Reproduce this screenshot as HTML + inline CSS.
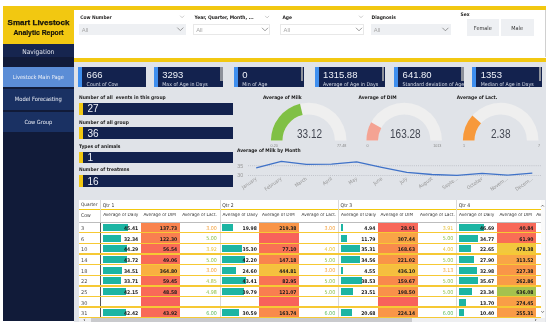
<!DOCTYPE html>
<html><head><meta charset="utf-8">
<style>
*{margin:0;padding:0;box-sizing:border-box}
html,body{width:550px;height:326px;overflow:hidden;background:#fff}
body{position:relative;font-family:"Liberation Sans",Arial,sans-serif;color:#222}
.a{position:absolute}
.t{position:absolute;white-space:nowrap;line-height:1}
/* sidebar */
#yel{left:3px;top:6px;width:71.4px;height:38.5px;background:#f2c811}
#ytop{left:3px;top:6px;width:542.6px;height:3.9px;background:#f2c811}
#nav{left:3px;top:44.4px;width:70.6px;height:276.8px;background:#111b39}
#navh{left:3px;top:44.4px;width:70.8px;height:13px;background:#16254f}
#navlm{left:3px;top:66.8px;width:70.8px;height:20.3px;background:#5b8dd6}
#navmf{left:3px;top:88.8px;width:70.6px;height:21.3px;background:#1a3163}
#navcg{left:3px;top:111.8px;width:70.6px;height:19.9px;background:#1a3163}
.navt{font-family:"DejaVu Sans Condensed","DejaVu Sans",sans-serif;color:#eef1f8;font-size:6px;text-align:center;width:70.6px;left:3px}
/* top bar */
#topw{left:74.2px;top:9.8px;width:471.4px;height:47.7px;background:#fff;border-right:0.8px solid #d0d0d0}
#main{left:73.8px;top:57.5px;width:471.8px;height:264.7px;background:#e0e3e8}
#ybot{left:74.2px;top:57.5px;width:471.4px;height:4px;background:#f2c811}
.flab{font-family:"DejaVu Sans Condensed","DejaVu Sans",sans-serif;font-weight:bold;font-size:4.9px;color:#252423}
.dd{height:11.5px;top:23.5px}
.ddg{background:#eef0f3}
.ddw{background:#fff;border:0.6px solid #e8e8e8}
.ddw .ddt{left:2.2px;top:3.7px}
.ddt{font-size:5.8px;color:#a6a6a6;left:2.8px;top:4.3px}
.chev{position:absolute;width:3.4px;height:3.4px;border-right:0.7px solid #777;border-bottom:0.7px solid #777;transform:rotate(45deg)}
.chs{width:2.6px;height:2.6px;border-color:#aaa}
.sexb{top:19px;height:17px;background:#eef0f3;font-family:"DejaVu Sans Condensed","DejaVu Sans",sans-serif;font-size:5.5px;color:#333;text-align:center;line-height:17px;padding-top:1px}
/* kpi */
.kpi{top:67.1px;height:20.2px;background:#13224e}
.kpi .acc{position:absolute;left:0;top:0;width:4.2px;height:100%;background:#3f8fef}
.kpi .sb{position:absolute;right:0.4px;top:0.4px;width:2.6px;height:13.6px;background:#8d919a}
.kv{font-size:9.5px;color:#eef1f8;left:8.6px;top:2.7px}
.kl{font-family:"DejaVu Sans Condensed","DejaVu Sans",sans-serif;font-size:5.25px;color:#d8dde8;left:8.6px;top:14.9px}
/* metric bars */
.ml{font-family:"DejaVu Sans Condensed","DejaVu Sans",sans-serif;font-weight:bold;font-size:4.9px;color:#1c1c1c;left:79px}
.mb{left:79px;width:153.7px;height:11.4px;background:#13224e}
.mb .acc{position:absolute;left:0;top:0;width:4.2px;height:100%;background:#f2c811}
.mv{font-size:10px;color:#eef1f8;left:8.4px;top:1.3px}
/* gauges */
.gt{font-family:"DejaVu Sans Condensed","DejaVu Sans",sans-serif;font-weight:bold;font-size:4.9px;color:#1c1c1c;top:94.6px}
.gv{font-size:13px;color:#434752;top:126.6px;transform-origin:0 0;transform:scaleX(0.77)}
.gm{font-size:3.7px;color:#888;top:145px}
/* table */
#tbl{left:78.7px;top:200.3px;width:465.9px;height:118px;background:#fff}
.yl{position:absolute;left:78.7px;width:461.9px;height:1.3px;background:#f6c934}
.cow{position:absolute;left:81px;font-family:"DejaVu Sans",sans-serif;font-size:5px;color:#4a4a4a;line-height:10px;height:10px;padding-top:0.6px}
.qh{position:absolute;top:202.7px;font-family:"DejaVu Sans Condensed","DejaVu Sans",sans-serif;font-size:5px;color:#333;line-height:1}
.ch{position:absolute;top:212.9px;font-family:"DejaVu Sans Condensed","DejaVu Sans",sans-serif;font-size:4.75px;color:#3a3a3a;line-height:1;text-align:left;padding-left:2.6px;white-space:nowrap;overflow:hidden}
.vq{position:absolute;top:200.3px;width:0.7px;height:117px;background:#d9d9d9}
.dimc{position:absolute}
.bar{position:absolute;height:7px;background:#1cb5a3}
.num{position:absolute;font-family:"DejaVu Sans Condensed","DejaVu Sans",sans-serif;font-weight:bold;font-size:5px;color:#1c1c1c;text-align:right;line-height:9px;padding-top:1.6px}
.lact{position:absolute;font-family:"DejaVu Sans Condensed","DejaVu Sans",sans-serif;font-size:5.3px;text-align:right;line-height:9px;padding-top:1.3px}
.xl text{font-size:5px;fill:#959595;font-family:"DejaVu Sans Condensed","DejaVu Sans",sans-serif}
</style></head><body>
<div class="a" id="yel"></div>
<div class="a" id="ytop"></div>
<div class="a" id="nav"></div>
<div class="a" id="navh"></div>
<div class="a" id="navlm"></div>
<div class="a" id="navmf"></div>
<div class="a" id="navcg"></div>
<div class="t" style="left:3px;width:71px;text-align:center;top:19.1px;font-weight:bold;font-size:8px;color:#15130c;-webkit-text-stroke:0.25px #15130c">Smart Livestock</div>
<div class="t" style="left:3px;width:71px;text-align:center;top:29.9px;font-weight:bold;font-size:6.8px;color:#15130c;-webkit-text-stroke:0.2px #15130c">Analytic Report</div>
<div class="t navt" style="top:49px;font-size:6.6px;color:#e2e6f0">Navigation</div>
<div class="t navt" style="top:74.6px;font-size:5.6px">Livestock Main Page</div>
<div class="t navt" style="top:97.4px;font-size:5.75px">Model Forecasting</div>
<div class="t navt" style="top:120px;font-size:5.6px">Cow Group</div>

<div class="a" id="topw"></div>
<div class="a" id="main"></div>
<div class="a" id="ybot"></div>

<!-- filters -->
<div class="t flab" style="left:80.2px;top:14.9px">Cow Number</div>
<div class="a dd ddg" style="left:79px;width:106.6px"><div class="t ddt">All</div></div>
<div class="t flab" style="left:194.6px;top:14.9px">Year, Quarter, Month, ...</div>
<div class="a dd ddw" style="left:193px;width:77.4px"><div class="t ddt">All</div></div>
<div class="t flab" style="left:282.4px;top:14.9px">Age</div>
<div class="a dd ddw" style="left:280.4px;width:84px"><div class="t ddt">All</div></div>
<div class="t flab" style="left:371.6px;top:14.9px">Diagnosis</div>
<div class="a dd ddg" style="left:371px;width:80px"><div class="t ddt">All</div></div>
<div class="t flab" style="left:460.6px;top:11.8px">Sex</div>
<div class="a sexb" style="left:466.6px;width:32.4px">Female</div>
<div class="a sexb" style="left:500.6px;width:33px">Male</div>

<!-- KPI cards -->
<div class="a kpi" style="left:78px;width:68.4px"><div class="acc"></div><div class="t kv">666</div><div class="t kl">Count of Cow</div></div>
<div class="a kpi" style="left:153.6px;width:69.7px"><div class="acc"></div><div class="sb"></div><div class="t kv">3293</div><div class="t kl">Max of Age in Days</div></div>
<div class="a kpi" style="left:233.7px;width:70px"><div class="acc"></div><div class="sb"></div><div class="t kv">0</div><div class="t kl">Min of Age</div></div>
<div class="a kpi" style="left:314.5px;width:70px;overflow:hidden"><div class="acc"></div><div class="sb"></div><div class="t kv">1315.88</div><div class="t kl">Average of Age in Days</div></div>
<div class="a kpi" style="left:394px;width:70px;overflow:hidden"><div class="acc"></div><div class="sb"></div><div class="t kv">641.80</div><div class="t kl">Standard deviation of Age</div></div>
<div class="a kpi" style="left:472.2px;width:69.6px;overflow:hidden"><div class="acc"></div><div class="sb"></div><div class="t kv">1353</div><div class="t kl">Median of Age in Days</div></div>

<!-- metric bars -->
<div class="t ml" style="top:95.4px">Number of all &nbsp;events in this group</div>
<div class="a mb" style="top:103.2px"><div class="acc"></div><div class="t mv">27</div></div>
<div class="t ml" style="top:119.6px">Number of all group</div>
<div class="a mb" style="top:127.3px"><div class="acc"></div><div class="t mv">36</div></div>
<div class="t ml" style="top:143.6px">Types of animals</div>
<div class="a mb" style="top:151.5px"><div class="acc"></div><div class="t mv">1</div></div>
<div class="t ml" style="top:167.4px">Number of treatmns</div>
<div class="a mb" style="top:175.4px"><div class="acc"></div><div class="t mv">16</div></div>

<!-- gauges -->
<svg class="a" style="left:0;top:0" width="550" height="326" viewBox="0 0 550 326">
<path d="M270.90,140.60 A37.8,37.8 0 0 1 346.50,140.60 L334.90,140.60 A26.2,26.2 0 0 0 282.50,140.60 Z" fill="#efefef"/>
<path d="M270.90,140.60 A37.8,37.8 0 0 1 299.99,103.82 L302.66,115.11 A26.2,26.2 0 0 0 282.50,140.60 Z" fill="#80c045"/>
<path d="M366.40,140.60 A37.8,37.8 0 0 1 442.00,140.60 L430.40,140.60 A26.2,26.2 0 0 0 378.00,140.60 Z" fill="#efefef"/>
<path d="M366.40,140.60 A37.8,37.8 0 0 1 371.14,122.27 L381.29,127.89 A26.2,26.2 0 0 0 378.00,140.60 Z" fill="#f4a393"/>
<path d="M462.90,140.60 A37.8,37.8 0 0 1 538.50,140.60 L526.90,140.60 A26.2,26.2 0 0 0 474.50,140.60 Z" fill="#efefef"/>
<path d="M462.90,140.60 A37.8,37.8 0 0 1 472.35,115.60 L481.05,123.27 A26.2,26.2 0 0 0 474.50,140.60 Z" fill="#f7993b"/>
<polyline points="180.1,15.7 182.1,17.7 184.1,15.7" fill="none" stroke="#a8a8a8" stroke-width="0.6"/>
<polyline points="265.1,15.9 267.1,17.9 269.1,15.9" fill="none" stroke="#a8a8a8" stroke-width="0.6"/>
<polyline points="359.0,15.7 361.0,17.7 363.0,15.7" fill="none" stroke="#a8a8a8" stroke-width="0.6"/>
<polyline points="177.3,27.6 180.3,30.6 183.3,27.6" fill="none" stroke="#6f6f6f" stroke-width="0.7"/>
<polyline points="262.0,27.8 265.0,30.8 268.0,27.8" fill="none" stroke="#6f6f6f" stroke-width="0.7"/>
<polyline points="356.0,27.8 359.0,30.8 362.0,27.8" fill="none" stroke="#6f6f6f" stroke-width="0.7"/>
<polyline points="442.4,27.8 445.4,30.8 448.4,27.8" fill="none" stroke="#6f6f6f" stroke-width="0.7"/>
<line x1="248" y1="165.7" x2="541" y2="165.7" stroke="#a6aab2" stroke-width="0.6" stroke-dasharray="0.9,1.2"/><line x1="248" y1="175.5" x2="541" y2="175.5" stroke="#a6aab2" stroke-width="0.6" stroke-dasharray="0.9,1.2"/><polyline points="256.2,167.9 281.3,161.4 306.4,164.4 331.5,164.2 356.6,161.8 381.7,167.3 406.8,172.3 431.9,174.5 457.0,175.3 482.1,173.4 507.2,175.1 532.3,173.2" fill="none" stroke="#3f72c8" stroke-width="1.3" stroke-linejoin="round"/><g class="xl"><text x="257.2" y="179.5" transform="rotate(-35 257.2 179.5)" text-anchor="end">January</text><text x="282.3" y="179.5" transform="rotate(-35 282.3 179.5)" text-anchor="end">February</text><text x="307.4" y="179.5" transform="rotate(-35 307.4 179.5)" text-anchor="end">March</text><text x="332.5" y="179.5" transform="rotate(-35 332.5 179.5)" text-anchor="end">April</text><text x="357.6" y="179.5" transform="rotate(-35 357.6 179.5)" text-anchor="end">May</text><text x="382.7" y="179.5" transform="rotate(-35 382.7 179.5)" text-anchor="end">June</text><text x="407.8" y="179.5" transform="rotate(-35 407.8 179.5)" text-anchor="end">July</text><text x="432.9" y="179.5" transform="rotate(-35 432.9 179.5)" text-anchor="end">August</text><text x="458.0" y="179.5" transform="rotate(-35 458.0 179.5)" text-anchor="end">Septe...</text><text x="483.1" y="179.5" transform="rotate(-35 483.1 179.5)" text-anchor="end">October</text><text x="508.2" y="179.5" transform="rotate(-35 508.2 179.5)" text-anchor="end">Novem...</text><text x="533.3" y="179.5" transform="rotate(-35 533.3 179.5)" text-anchor="end">Decem...</text></g>
</svg>
<div class="t gt" style="left:262.9px">Average of Milk</div>
<div class="t gt" style="left:358.5px">Average of DIM</div>
<div class="t gt" style="left:456.8px">Average of Lact.</div>
<div class="t gv" style="left:296.5px">33.12</div>
<div class="t gv" style="left:389.7px">163.28</div>
<div class="t gv" style="left:490.7px">2.38</div>
<div class="t gm" style="left:270.6px">0.20</div>
<div class="t gm" style="left:337px">77.48</div>
<div class="t gm" style="left:366.6px">0</div>
<div class="t gm" style="left:433.2px">1013</div>
<div class="t gm" style="left:463px">1</div>
<div class="t gm" style="left:538px">7</div>
<div class="t gt" style="left:237px;top:147.8px">Average of Milk by Month</div>
<div class="t" style="left:237.2px;top:163.9px;font-size:5.3px;color:#999">35</div>
<div class="t" style="left:237.2px;top:173.3px;font-size:5.3px;color:#999">30</div>

<!-- table -->
<div class="a" id="tbl"></div>
<div class="a" style="left:78.7px;top:209px;width:465.9px;height:0.9px;background:#f2c811"></div>

<div class="a" style="left:100.3px;top:222.4px;width:0.8px;height:95px;background:#555"></div>
<div class="a" style="left:100.3px;top:200.3px;width:0.6px;height:22px;background:#d9d9d9"></div>
<div class="t" style="left:81px;top:202.7px;font-family:'DejaVu Sans Condensed',sans-serif;font-size:4.75px;color:#333">Quarter</div>
<div class="t" style="left:81px;top:212.8px;font-family:'DejaVu Sans Condensed',sans-serif;font-size:5px;color:#333">Cow</div>
<div class="qh" style="left:102.80px">Qtr 1</div>
<div class="ch" style="left:100.60px;width:40.20px">Average of Daily</div>
<div class="ch" style="left:140.80px;width:38.80px">Average of DIM</div>
<div class="ch" style="left:179.60px;width:40.40px">Average of Lact.</div>
<div class="qh" style="left:222.20px">Qtr 2</div>
<div class="vq" style="left:219.50px"></div>
<div class="ch" style="left:220.00px;width:39.40px">Average of Daily</div>
<div class="ch" style="left:259.40px;width:39.50px">Average of DIM</div>
<div class="ch" style="left:298.90px;width:39.50px">Average of Lact.</div>
<div class="qh" style="left:340.60px">Qtr 3</div>
<div class="vq" style="left:337.90px"></div>
<div class="ch" style="left:338.40px;width:39.60px">Average of Daily</div>
<div class="ch" style="left:378.00px;width:39.50px">Average of DIM</div>
<div class="ch" style="left:417.50px;width:39.00px">Average of Lact.</div>
<div class="qh" style="left:458.70px">Qtr 4</div>
<div class="vq" style="left:456.00px"></div>
<div class="ch" style="left:456.50px;width:40.30px">Average of Daily</div>
<div class="ch" style="left:496.80px;width:39.10px">Average of DIM</div>
<div class="ch" style="left:535.9px;width:4.8px;overflow:hidden;padding-left:0.3px">Av</div>
<div class="dimc" style="left:140.80px;top:222.50px;width:38.80px;height:10.63px;background:#f9834e"></div>
<div class="bar" style="left:102.90px;top:224.10px;width:24.75px"></div>
<div class="num" style="left:100.60px;top:222.50px;width:37.60px">45.41</div>
<div class="num" style="left:140.80px;top:222.50px;width:36.40px">137.73</div>
<div class="lact" style="left:179.60px;top:222.50px;width:37.20px;color:#f5a03a">3.00</div>
<div class="dimc" style="left:140.80px;top:233.13px;width:38.80px;height:10.63px;background:#f97f50"></div>
<div class="bar" style="left:102.90px;top:234.73px;width:17.63px"></div>
<div class="num" style="left:100.60px;top:233.13px;width:37.60px">32.34</div>
<div class="num" style="left:140.80px;top:233.13px;width:36.40px">122.30</div>
<div class="lact" style="left:179.60px;top:233.13px;width:37.20px;color:#8cc04c">5.00</div>
<div class="dimc" style="left:140.80px;top:243.76px;width:38.80px;height:10.63px;background:#f96c56"></div>
<div class="bar" style="left:102.90px;top:245.36px;width:24.14px"></div>
<div class="num" style="left:100.60px;top:243.76px;width:37.60px">44.29</div>
<div class="num" style="left:140.80px;top:243.76px;width:36.40px">56.54</div>
<div class="lact" style="left:179.60px;top:243.76px;width:37.20px;color:#e8c03a">3.92</div>
<div class="dimc" style="left:140.80px;top:254.39px;width:38.80px;height:10.63px;background:#f96b57"></div>
<div class="bar" style="left:102.90px;top:255.99px;width:23.83px"></div>
<div class="num" style="left:100.60px;top:254.39px;width:37.60px">43.72</div>
<div class="num" style="left:140.80px;top:254.39px;width:36.40px">49.06</div>
<div class="lact" style="left:179.60px;top:254.39px;width:37.20px;color:#8cc04c">5.00</div>
<div class="dimc" style="left:140.80px;top:265.02px;width:38.80px;height:10.63px;background:#f9b041"></div>
<div class="bar" style="left:102.90px;top:266.62px;width:18.81px"></div>
<div class="num" style="left:100.60px;top:265.02px;width:37.60px">34.51</div>
<div class="num" style="left:140.80px;top:265.02px;width:36.40px">364.80</div>
<div class="lact" style="left:179.60px;top:265.02px;width:37.20px;color:#f5a03a">3.00</div>
<div class="dimc" style="left:140.80px;top:275.65px;width:38.80px;height:10.63px;background:#f96c56"></div>
<div class="bar" style="left:102.90px;top:277.25px;width:18.37px"></div>
<div class="num" style="left:100.60px;top:275.65px;width:37.60px">33.71</div>
<div class="num" style="left:140.80px;top:275.65px;width:36.40px">59.45</div>
<div class="lact" style="left:179.60px;top:275.65px;width:37.20px;color:#a6c24a">4.85</div>
<div class="dimc" style="left:140.80px;top:286.28px;width:38.80px;height:10.63px;background:#f96a58"></div>
<div class="bar" style="left:102.90px;top:287.88px;width:22.97px"></div>
<div class="num" style="left:100.60px;top:286.28px;width:37.60px">42.15</div>
<div class="num" style="left:140.80px;top:286.28px;width:36.40px">48.58</div>
<div class="lact" style="left:179.60px;top:286.28px;width:37.20px;color:#8fc04c">4.98</div>
<div class="dimc" style="left:140.80px;top:296.91px;width:38.80px;height:10.63px;background:#f8625b"></div>
<div class="dimc" style="left:140.80px;top:307.54px;width:38.80px;height:10.63px;background:#f86a58"></div>
<div class="bar" style="left:102.90px;top:309.14px;width:23.12px"></div>
<div class="num" style="left:100.60px;top:307.54px;width:37.60px">42.42</div>
<div class="num" style="left:140.80px;top:307.54px;width:36.40px">43.92</div>
<div class="lact" style="left:179.60px;top:307.54px;width:37.20px;color:#58b85a">6.00</div>
<div class="dimc" style="left:259.40px;top:222.50px;width:39.50px;height:10.63px;background:#f99548"></div>
<div class="bar" style="left:222.30px;top:224.10px;width:10.89px"></div>
<div class="num" style="left:220.00px;top:222.50px;width:36.80px">19.98</div>
<div class="num" style="left:259.40px;top:222.50px;width:37.10px">219.38</div>
<div class="lact" style="left:298.90px;top:222.50px;width:36.30px;color:#f5a03a">3.00</div>
<div class="dimc" style="left:259.40px;top:233.13px;width:39.50px;height:10.63px;background:#f8625b"></div>
<div class="dimc" style="left:259.40px;top:243.76px;width:39.50px;height:10.63px;background:#f97154"></div>
<div class="bar" style="left:222.30px;top:245.36px;width:19.24px"></div>
<div class="num" style="left:220.00px;top:243.76px;width:36.80px">35.30</div>
<div class="num" style="left:259.40px;top:243.76px;width:37.10px">77.10</div>
<div class="lact" style="left:298.90px;top:243.76px;width:36.30px;color:#e3c23c">4.00</div>
<div class="dimc" style="left:259.40px;top:254.39px;width:39.50px;height:10.63px;background:#f9854e"></div>
<div class="bar" style="left:222.30px;top:255.99px;width:23.00px"></div>
<div class="num" style="left:220.00px;top:254.39px;width:36.80px">42.20</div>
<div class="num" style="left:259.40px;top:254.39px;width:37.10px">147.18</div>
<div class="lact" style="left:298.90px;top:254.39px;width:36.30px;color:#8cc04c">5.00</div>
<div class="dimc" style="left:259.40px;top:265.02px;width:39.50px;height:10.63px;background:#f5c13f"></div>
<div class="bar" style="left:222.30px;top:266.62px;width:13.41px"></div>
<div class="num" style="left:220.00px;top:265.02px;width:36.80px">24.60</div>
<div class="num" style="left:259.40px;top:265.02px;width:37.10px">444.81</div>
<div class="lact" style="left:298.90px;top:265.02px;width:36.30px;color:#f5a03a">3.00</div>
<div class="dimc" style="left:259.40px;top:275.65px;width:39.50px;height:10.63px;background:#f97354"></div>
<div class="bar" style="left:222.30px;top:277.25px;width:23.66px"></div>
<div class="num" style="left:220.00px;top:275.65px;width:36.80px">43.41</div>
<div class="num" style="left:259.40px;top:275.65px;width:37.10px">82.95</div>
<div class="lact" style="left:298.90px;top:275.65px;width:36.30px;color:#8cc04c">5.00</div>
<div class="dimc" style="left:259.40px;top:286.28px;width:39.50px;height:10.63px;background:#f97e50"></div>
<div class="bar" style="left:222.30px;top:287.88px;width:21.69px"></div>
<div class="num" style="left:220.00px;top:286.28px;width:36.80px">39.79</div>
<div class="num" style="left:259.40px;top:286.28px;width:37.10px">121.07</div>
<div class="lact" style="left:298.90px;top:286.28px;width:36.30px;color:#8cc04c">5.00</div>
<div class="dimc" style="left:259.40px;top:296.91px;width:39.50px;height:10.63px;background:#f8625b"></div>
<div class="dimc" style="left:259.40px;top:307.54px;width:39.50px;height:10.63px;background:#f98a4c"></div>
<div class="bar" style="left:222.30px;top:309.14px;width:16.67px"></div>
<div class="num" style="left:220.00px;top:307.54px;width:36.80px">30.59</div>
<div class="num" style="left:259.40px;top:307.54px;width:37.10px">163.74</div>
<div class="lact" style="left:298.90px;top:307.54px;width:36.30px;color:#58b85a">6.00</div>
<div class="dimc" style="left:378.00px;top:222.50px;width:39.50px;height:10.63px;background:#f8685a"></div>
<div class="bar" style="left:340.70px;top:224.10px;width:2.69px"></div>
<div class="num" style="left:338.40px;top:222.50px;width:37.00px">4.94</div>
<div class="num" style="left:378.00px;top:222.50px;width:37.10px">28.91</div>
<div class="lact" style="left:417.50px;top:222.50px;width:35.80px;color:#e8c03a">3.91</div>
<div class="dimc" style="left:378.00px;top:233.13px;width:39.50px;height:10.63px;background:#f9a447"></div>
<div class="bar" style="left:340.70px;top:234.73px;width:6.43px"></div>
<div class="num" style="left:338.40px;top:233.13px;width:37.00px">11.79</div>
<div class="num" style="left:378.00px;top:233.13px;width:37.10px">307.44</div>
<div class="lact" style="left:417.50px;top:233.13px;width:35.80px;color:#8cc04c">5.00</div>
<div class="dimc" style="left:378.00px;top:243.76px;width:39.50px;height:10.63px;background:#f98b4c"></div>
<div class="bar" style="left:340.70px;top:245.36px;width:19.24px"></div>
<div class="num" style="left:338.40px;top:243.76px;width:37.00px">35.31</div>
<div class="num" style="left:378.00px;top:243.76px;width:37.10px">168.63</div>
<div class="lact" style="left:417.50px;top:243.76px;width:35.80px;color:#e3c23c">4.00</div>
<div class="dimc" style="left:378.00px;top:254.39px;width:39.50px;height:10.63px;background:#f99548"></div>
<div class="bar" style="left:340.70px;top:255.99px;width:18.84px"></div>
<div class="num" style="left:338.40px;top:254.39px;width:37.00px">34.56</div>
<div class="num" style="left:378.00px;top:254.39px;width:37.10px">221.02</div>
<div class="lact" style="left:417.50px;top:254.39px;width:35.80px;color:#8cc04c">5.00</div>
<div class="dimc" style="left:378.00px;top:265.02px;width:39.50px;height:10.63px;background:#f5bf3f"></div>
<div class="bar" style="left:340.70px;top:266.62px;width:2.48px"></div>
<div class="num" style="left:338.40px;top:265.02px;width:37.00px">4.55</div>
<div class="num" style="left:378.00px;top:265.02px;width:37.10px">436.10</div>
<div class="lact" style="left:417.50px;top:265.02px;width:35.80px;color:#f3a53a">3.13</div>
<div class="dimc" style="left:378.00px;top:275.65px;width:39.50px;height:10.63px;background:#f9894c"></div>
<div class="bar" style="left:340.70px;top:277.25px;width:21.00px"></div>
<div class="num" style="left:338.40px;top:275.65px;width:37.00px">38.53</div>
<div class="num" style="left:378.00px;top:275.65px;width:37.10px">159.67</div>
<div class="lact" style="left:417.50px;top:275.65px;width:35.80px;color:#8cc04c">5.00</div>
<div class="dimc" style="left:378.00px;top:286.28px;width:39.50px;height:10.63px;background:#f9914a"></div>
<div class="bar" style="left:340.70px;top:287.88px;width:12.81px"></div>
<div class="num" style="left:338.40px;top:286.28px;width:37.00px">23.51</div>
<div class="num" style="left:378.00px;top:286.28px;width:37.10px">198.50</div>
<div class="lact" style="left:417.50px;top:286.28px;width:35.80px;color:#8cc04c">5.00</div>
<div class="dimc" style="left:378.00px;top:296.91px;width:39.50px;height:10.63px;background:#f8625b"></div>
<div class="dimc" style="left:378.00px;top:307.54px;width:39.50px;height:10.63px;background:#f99648"></div>
<div class="bar" style="left:340.70px;top:309.14px;width:11.27px"></div>
<div class="num" style="left:338.40px;top:307.54px;width:37.00px">20.68</div>
<div class="num" style="left:378.00px;top:307.54px;width:37.10px">224.14</div>
<div class="lact" style="left:417.50px;top:307.54px;width:35.80px;color:#58b85a">6.00</div>
<div class="dimc" style="left:496.80px;top:222.50px;width:39.10px;height:10.63px;background:#f86959"></div>
<div class="bar" style="left:458.80px;top:224.10px;width:25.45px"></div>
<div class="num" style="left:456.50px;top:222.50px;width:37.70px">46.69</div>
<div class="num" style="left:496.80px;top:222.50px;width:36.70px">40.84</div>
<div class="dimc" style="left:496.80px;top:233.13px;width:39.10px;height:10.63px;background:#f96d56"></div>
<div class="bar" style="left:458.80px;top:234.73px;width:18.95px"></div>
<div class="num" style="left:456.50px;top:233.13px;width:37.70px">34.77</div>
<div class="num" style="left:496.80px;top:233.13px;width:36.70px">61.90</div>
<div class="dimc" style="left:496.80px;top:243.76px;width:39.10px;height:10.63px;background:#f2c83e"></div>
<div class="bar" style="left:458.80px;top:245.36px;width:12.34px"></div>
<div class="num" style="left:456.50px;top:243.76px;width:37.70px">22.65</div>
<div class="num" style="left:496.80px;top:243.76px;width:36.70px">478.38</div>
<div class="dimc" style="left:496.80px;top:254.39px;width:39.10px;height:10.63px;background:#f9a547"></div>
<div class="bar" style="left:458.80px;top:255.99px;width:15.21px"></div>
<div class="num" style="left:456.50px;top:254.39px;width:37.70px">27.90</div>
<div class="num" style="left:496.80px;top:254.39px;width:36.70px">313.52</div>
<div class="dimc" style="left:496.80px;top:265.02px;width:39.10px;height:10.63px;background:#f99648"></div>
<div class="bar" style="left:458.80px;top:266.62px;width:17.97px"></div>
<div class="num" style="left:456.50px;top:265.02px;width:37.70px">32.98</div>
<div class="num" style="left:496.80px;top:265.02px;width:36.70px">227.38</div>
<div class="dimc" style="left:496.80px;top:275.65px;width:39.10px;height:10.63px;background:#f99c47"></div>
<div class="bar" style="left:458.80px;top:277.25px;width:19.44px"></div>
<div class="num" style="left:456.50px;top:275.65px;width:37.70px">35.67</div>
<div class="num" style="left:496.80px;top:275.65px;width:36.70px">262.86</div>
<div class="dimc" style="left:496.80px;top:286.28px;width:39.10px;height:10.63px;background:#a5c24e"></div>
<div class="bar" style="left:458.80px;top:287.88px;width:12.72px"></div>
<div class="num" style="left:456.50px;top:286.28px;width:37.70px">23.34</div>
<div class="num" style="left:496.80px;top:286.28px;width:36.70px">636.08</div>
<div class="dimc" style="left:496.80px;top:296.91px;width:39.10px;height:10.63px;background:#f99e47"></div>
<div class="bar" style="left:458.80px;top:298.51px;width:7.47px"></div>
<div class="num" style="left:456.50px;top:296.91px;width:37.70px">13.70</div>
<div class="num" style="left:496.80px;top:296.91px;width:36.70px">274.45</div>
<div class="dimc" style="left:496.80px;top:307.54px;width:39.10px;height:10.63px;background:#f99b47"></div>
<div class="bar" style="left:458.80px;top:309.14px;width:5.67px"></div>
<div class="num" style="left:456.50px;top:307.54px;width:37.70px">10.40</div>
<div class="num" style="left:496.80px;top:307.54px;width:36.70px">255.31</div>
<div class="cow" style="top:222.50px">3</div>
<div class="yl" style="top:232.08px"></div>
<div class="cow" style="top:233.13px">6</div>
<div class="yl" style="top:242.71px"></div>
<div class="cow" style="top:243.76px">10</div>
<div class="yl" style="top:253.34px"></div>
<div class="cow" style="top:254.39px">14</div>
<div class="yl" style="top:263.97px"></div>
<div class="cow" style="top:265.02px">18</div>
<div class="yl" style="top:274.60px"></div>
<div class="cow" style="top:275.65px">22</div>
<div class="yl" style="top:285.23px"></div>
<div class="cow" style="top:286.28px">25</div>
<div class="yl" style="top:295.86px"></div>
<div class="cow" style="top:296.91px">30</div>
<div class="yl" style="top:306.49px"></div>
<div class="cow" style="top:307.54px">31</div>
<div class="yl" style="top:317.12px"></div>
<div class="a" style="left:78.7px;top:222.1px;width:461.9px;height:0.9px;background:#bdbdbd"></div>
<!-- scrollbars -->
<div class="a" style="left:540.6px;top:200.3px;width:4px;height:117.8px;background:#fafafa"></div>


<div class="a" style="left:78.7px;top:318.1px;width:465.9px;height:4px;background:#c9cacd"></div>
<div class="a" style="left:78.7px;top:318.1px;width:12.3px;height:4px;background:#eeeff1"></div>
<div class="a" style="left:411.8px;top:318.1px;width:132.8px;height:4px;background:#eeeff1"></div>
<svg class="a" style="left:0;top:0" width="550" height="326"><polyline points="84.9,318.9 83.9,319.9 84.9,320.9" fill="none" stroke="#444" stroke-width="0.7"/><polyline points="535.1,318.9 536.1,319.9 535.1,320.9" fill="none" stroke="#444" stroke-width="0.7"/><polyline points="541.3,206.5 542.6,205.2 543.9,206.5" fill="none" stroke="#444" stroke-width="0.7"/><polyline points="541.3,311.2 542.6,312.5 543.9,311.2" fill="none" stroke="#444" stroke-width="0.7"/></svg>
</body></html>
